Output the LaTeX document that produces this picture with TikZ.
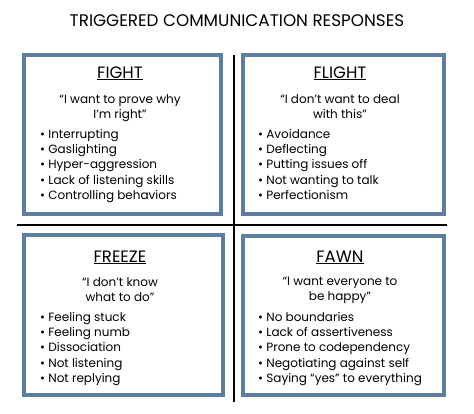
\documentclass[tikz,border=0pt]{standalone}
\usepackage{fontspec}
\setmainfont{Poppins}
\definecolor{framecol}{RGB}{94,126,160}
\tikzset{
  panel/.style={draw=framecol, line width=4pt, fill=white, inner sep=0pt},
  heading/.style={font=\fontsize{16.5}{18}\selectfont, inner sep=0pt, anchor=base},
  quote/.style={font=\fontsize{12}{15}\selectfont, align=center, inner sep=0pt, anchor=north},
  items/.style={font=\fontsize{12}{15.3}\selectfont, align=left, inner sep=0pt, anchor=north west},
  divider/.style={line width=2.5pt, black},
}
\begin{document}
\begin{tikzpicture}[x=1pt,y=-1pt]
\useasboundingbox (0,0) rectangle (474,413);
\node[font=\fontsize{16.8}{18}\selectfont, inner sep=0pt] (title) at (237,21) {TRIGGERED COMMUNICATION RESPONSES};
\coordinate (vtop) at (234,55);
\coordinate (vbot) at (234,402);
\coordinate (hl) at (17,225);
\coordinate (hr) at (447,225);
\draw[divider] (vtop) -- (vbot);
\draw[divider] (hl) -- (hr);

\node[panel, minimum width=197, minimum height=159] (fight) at (122.5,134.5) {};
\node[panel, minimum width=201, minimum height=159] (flight) at (343.5,134.5) {};
\node[panel, minimum width=199, minimum height=160] (freeze) at (123.5,315) {};
\node[panel, minimum width=201, minimum height=159] (fawn) at (343.5,315.5) {};

\node[heading] (h1) at (120,78) {\underline{FIGHT}};
\node[quote] (q1) at (120,94) {“I want to prove why\\I'm right”};
\node[items] (l1) at (40,129) {• Interrupting\\• Gaslighting\\• Hyper-aggression\\• Lack of listening skills\\• Controlling behaviors};

\node[heading] (h2) at (340,78) {\underline{FLIGHT}};
\node[quote] (q2) at (340,94) {“I don't want to deal\\with this”};
\node[items] (l2) at (258,129) {• Avoidance\\• Deflecting\\• Putting issues off\\• Not wanting to talk\\• Perfectionism};

\node[heading] (h3) at (120,262) {\underline{FREEZE}};
\node[quote] (q3) at (120,277) {“I don't know\\what to do”};
\node[items] (l3) at (40,312) {• Feeling stuck\\• Feeling numb\\• Dissociation\\• Not listening\\• Not replying};

\node[heading] (h4) at (340,262) {\underline{FAWN}};
\node[quote] (q4) at (340,277) {“I want everyone to\\be happy”};
\node[items] (l4) at (258,312) {• No boundaries\\• Lack of assertiveness\\• Prone to codependency\\• Negotiating against self\\• Saying “yes” to everything};
\end{tikzpicture}
\end{document}
